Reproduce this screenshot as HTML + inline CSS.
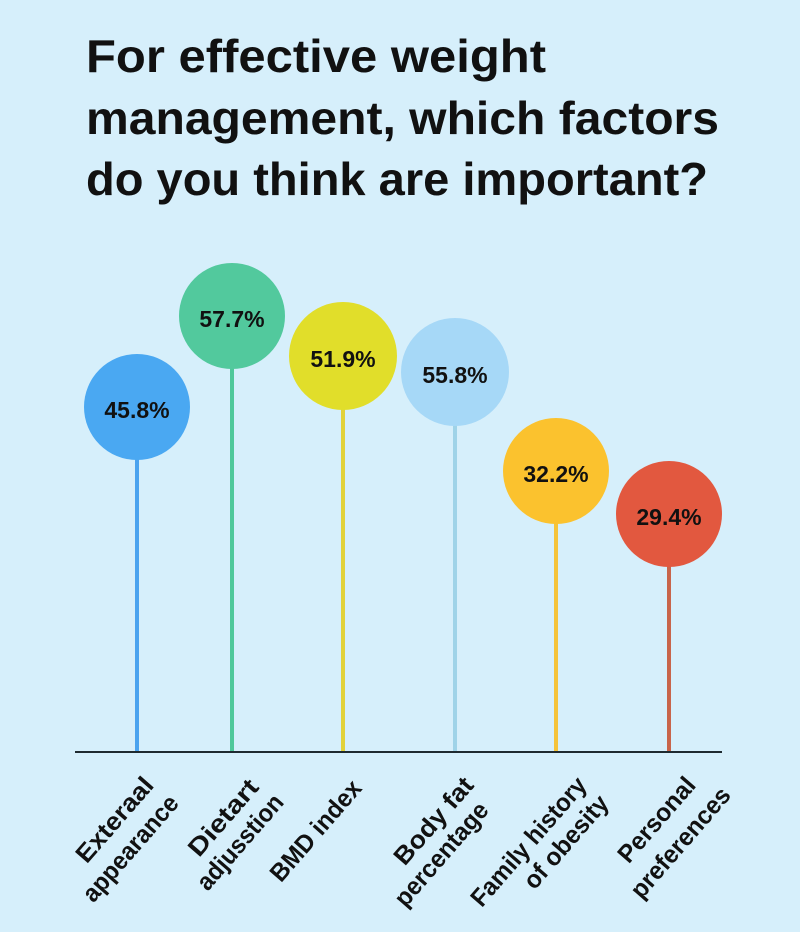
<!DOCTYPE html>
<html><head><meta charset="utf-8"><style>
html,body{margin:0;padding:0;background:#d6effb;}
svg{display:block;font-family:"Liberation Sans",sans-serif;}
</style></head><body>
<svg width="800" height="932" viewBox="0 0 800 932">
<rect width="800" height="932" fill="#d6effb"/>
<g font-weight="bold" font-size="46" fill="#111">
<text x="86" y="72" textLength="460" lengthAdjust="spacingAndGlyphs">For effective weight</text>
<text x="86" y="134" textLength="633" lengthAdjust="spacingAndGlyphs">management, which factors</text>
<text x="86" y="195" textLength="622" lengthAdjust="spacingAndGlyphs">do you think are important?</text>
</g>
<g stroke-width="4">
<line x1="137" y1="407" x2="137" y2="752" stroke="#4aa3ef"/>
<line x1="232" y1="316" x2="232" y2="752" stroke="#4fc89a"/>
<line x1="343" y1="356" x2="343" y2="752" stroke="#e2d23a"/>
<line x1="455" y1="372" x2="455" y2="752" stroke="#9fd3e8"/>
<line x1="556" y1="471" x2="556" y2="752" stroke="#f5c33a"/>
<line x1="669" y1="514" x2="669" y2="752" stroke="#c8644a"/>
</g>
<circle cx="137" cy="407" r="53" fill="#4aa8f2"/>
<circle cx="232" cy="316" r="53" fill="#52c99d"/>
<circle cx="343" cy="356" r="54" fill="#e1de2a"/>
<circle cx="455" cy="372" r="54" fill="#a6d8f7"/>
<circle cx="556" cy="471" r="53" fill="#fbc22e"/>
<circle cx="669" cy="514" r="53" fill="#e2583f"/>
<g font-weight="bold" font-size="23" fill="#111" text-anchor="middle">
<text x="137" y="418">45.8%</text>
<text x="232" y="327">57.7%</text>
<text x="343" y="367">51.9%</text>
<text x="455" y="383">55.8%</text>
<text x="556" y="482">32.2%</text>
<text x="669" y="525">29.4%</text>
</g>
<line x1="75" y1="752" x2="722" y2="752" stroke="#1e2a30" stroke-width="2"/>
<g font-size="25" font-weight="bold" fill="#111" text-anchor="end">
<text transform="translate(155,786) rotate(-49)" textLength="104" lengthAdjust="spacingAndGlyphs">Exteraal</text>
<text transform="translate(180,804) rotate(-49)" textLength="132" lengthAdjust="spacingAndGlyphs">appearance</text>
<text transform="translate(260,788) rotate(-49)" textLength="93" lengthAdjust="spacingAndGlyphs">Dietart</text>
<text transform="translate(285,803) rotate(-49)" textLength="118" lengthAdjust="spacingAndGlyphs">adjusstion</text>
<text transform="translate(363,789) rotate(-49)" textLength="125" lengthAdjust="spacingAndGlyphs">BMD index</text>
<text transform="translate(475,786) rotate(-49)" textLength="107" lengthAdjust="spacingAndGlyphs">Body fat</text>
<text transform="translate(490,811) rotate(-49)" textLength="129" lengthAdjust="spacingAndGlyphs">percentage</text>
<text transform="translate(588,786) rotate(-49)" textLength="162" lengthAdjust="spacingAndGlyphs">Family history</text>
<text transform="translate(610,804) rotate(-49)" textLength="115" lengthAdjust="spacingAndGlyphs">of obesity</text>
<text transform="translate(697,786) rotate(-49)" textLength="104" lengthAdjust="spacingAndGlyphs">Personal</text>
<text transform="translate(732,796) rotate(-49)" textLength="138" lengthAdjust="spacingAndGlyphs">preferences</text>
</g>
</svg>
</body></html>
